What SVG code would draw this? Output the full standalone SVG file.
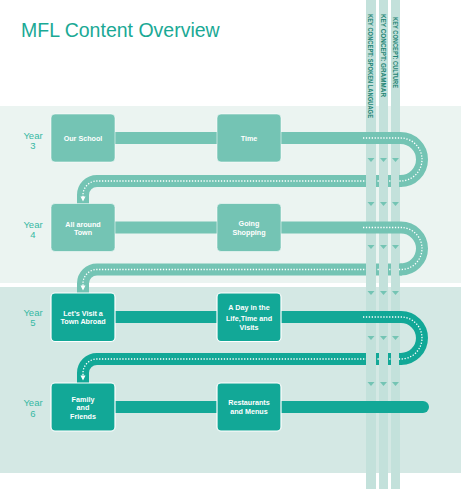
<svg xmlns="http://www.w3.org/2000/svg" width="461" height="489" viewBox="0 0 461 489">
<style>
.title{font-family:"Liberation Sans",Arial,sans-serif;font-size:19.5px;fill:#1aa995}
.year{font-family:"Liberation Sans",Arial,sans-serif;font-size:9.5px;fill:#35b8a3;text-anchor:middle}
.lbl{font-family:"Liberation Sans",Arial,sans-serif;font-size:7.2px;font-weight:bold;fill:#ffffff;text-anchor:middle}
.kc{font-family:"Liberation Sans",Arial,sans-serif;font-size:7.2px;font-weight:bold;fill:#1e8474}
.col{fill:#c3e1db}
.tri{fill:#74c4b4}
.boxL{fill:#74c4b4;stroke:#ffffff;stroke-opacity:0.55;stroke-width:1}
.boxD{fill:#12a897;stroke:#ffffff;stroke-width:1.2}
.barL{fill:none;stroke:#74c4b4;stroke-width:12}
.barD{fill:none;stroke:#12a897;stroke-width:12}
.dot{fill:none;stroke:#ffffff;stroke-width:1.3;stroke-dasharray:1.3 1.6}
.arr{fill:#ffffff}
</style>
<rect width="461" height="489" fill="#ffffff"/>
<rect x="0" y="106" width="461" height="177" fill="#ebf4f1"/>
<rect x="0" y="287" width="461" height="186" fill="#d4e8e4"/>
<text class="title" x="21" y="37.3">MFL Content Overview</text>

<g id="years">
<text class="year" x="33" y="138.5">Year</text><text class="year" x="33" y="149">3</text>
<text class="year" x="33" y="227.8">Year</text><text class="year" x="33" y="238.4">4</text>
<text class="year" x="33" y="315.8">Year</text><text class="year" x="33" y="326.2">5</text>
<text class="year" x="33" y="406.2">Year</text><text class="year" x="33" y="416.8">6</text>
</g>

<g id="connectors-under">
<path class="barL" d="M402,181 H97 A14,14 0 0 0 83,195 V205"/>
<path class="dot" d="M402,181 H97 A14,14 0 0 0 83,195 V197"/>
<polygon class="arr" points="80.5,196.5 85.5,196.5 83,201.5"/>
<path class="barL" d="M402,269.5 H97 A14,14 0 0 0 83,283.5 V294"/>
<path class="dot" d="M402,269.5 H97 A14,14 0 0 0 83,283.5 V286"/>
<polygon class="arr" points="80.5,285.5 85.5,285.5 83,290.5"/>
<path class="barD" d="M402,359 H97 A14,14 0 0 0 83,373 V384"/>
<path class="dot" d="M402,359 H97 A14,14 0 0 0 83,373 V376"/>
<polygon class="arr" points="80.5,375.5 85.5,375.5 83,380.5"/>
</g>

<g id="key-concepts">
<rect class="col" x="366" y="0" width="10" height="489"/>
<rect class="col" x="379" y="0" width="9" height="489"/>
<rect class="col" x="391" y="0" width="9" height="489"/>
<text class="kc" transform="translate(371,14) rotate(90)" x="0" y="2.6" textLength="104" lengthAdjust="spacingAndGlyphs">KEY CONCEPT: SPOKEN LANGUAGE</text>
<text class="kc" transform="translate(383.5,14) rotate(90)" x="0" y="2.6" textLength="83" lengthAdjust="spacingAndGlyphs">KEY CONCEPT: GRAMMAR</text>
<text class="kc" transform="translate(395.5,17) rotate(90)" x="0" y="2.6" textLength="71" lengthAdjust="spacingAndGlyphs">KEY CONCEPT: CULTURE</text>
<g class="tri">
<polygon points="367.5,158 374.5,158 371,162"/><polygon points="380,158 387,158 383.5,162"/><polygon points="392,158 399,158 395.5,162"/>
<polygon points="367.5,202 374.5,202 371,206"/><polygon points="380,202 387,202 383.5,206"/><polygon points="392,202 399,202 395.5,206"/>
<polygon points="367.5,245 374.5,245 371,249"/><polygon points="380,245 387,245 383.5,249"/><polygon points="392,245 399,245 395.5,249"/>
<polygon points="367.5,291 374.5,291 371,295"/><polygon points="380,291 387,291 383.5,295"/><polygon points="392,291 399,291 395.5,295"/>
<polygon points="367.5,336 374.5,336 371,340"/><polygon points="380,336 387,336 383.5,340"/><polygon points="392,336 399,336 395.5,340"/>
<polygon points="367.5,382 374.5,382 371,386"/><polygon points="380,382 387,382 383.5,386"/><polygon points="392,382 399,382 395.5,386"/>
</g>
</g>

<g id="connectors-over">
<path class="barL" d="M115,138 H400.5 A21.5,21.5 0 0 1 400.5,181 H399"/>
<path class="dot" d="M363,138 H400.5 A21.5,21.5 0 0 1 400.5,181 H399"/>
<path class="barL" d="M115,227.5 H401 A21,21 0 0 1 401,269.5 H399"/>
<path class="dot" d="M363,227.5 H401 A21,21 0 0 1 401,269.5 H399"/>
<path class="barD" d="M115,317 H401 A21,21 0 0 1 401,359 H399"/>
<path class="dot" d="M363,317 H401 A21,21 0 0 1 401,359 H399"/>
<path class="barD" d="M115,407 H423" stroke-linecap="round"/>
</g>

<g id="n-our-school"><rect class="boxL" x="51" y="114" width="64" height="48" rx="4"/><text class="lbl" x="83" y="140.5">Our School</text></g>
<g id="n-time"><rect class="boxL" x="217" y="114" width="64" height="48" rx="4"/><text class="lbl" x="249" y="140.5">Time</text></g>
<g id="n-all-around-town"><rect class="boxL" x="51" y="203.5" width="64" height="48" rx="4"/><text class="lbl" x="83" y="226.8">All around</text><text class="lbl" x="83" y="235.2">Town</text></g>
<g id="n-going-shopping"><rect class="boxL" x="217" y="203.5" width="64" height="48" rx="4"/><text class="lbl" x="249" y="226.2">Going</text><text class="lbl" x="249" y="234.8">Shopping</text></g>
<g id="n-lets-visit"><rect class="boxD" x="51" y="293" width="64" height="48.5" rx="4"/><text class="lbl" x="83" y="315.8">Let’s Visit a</text><text class="lbl" x="83" y="324.2">Town Abroad</text></g>
<g id="n-a-day"><rect class="boxD" x="217" y="293" width="64" height="48.5" rx="4"/><text class="lbl" x="249" y="310.2">A Day in the</text><text class="lbl" x="249" y="320.8">Life,Time and</text><text class="lbl" x="249" y="329.8">Visits</text></g>
<g id="n-family"><rect class="boxD" x="51" y="383" width="64" height="48" rx="4"/><text class="lbl" x="83" y="401.5">Family</text><text class="lbl" x="83" y="409.8">and</text><text class="lbl" x="83" y="418.5">Friends</text></g>
<g id="n-restaurants"><rect class="boxD" x="217" y="383" width="64" height="48" rx="4"/><text class="lbl" x="249" y="404.8">Restaurants</text><text class="lbl" x="249" y="413.5">and Menus</text></g>
</svg>
